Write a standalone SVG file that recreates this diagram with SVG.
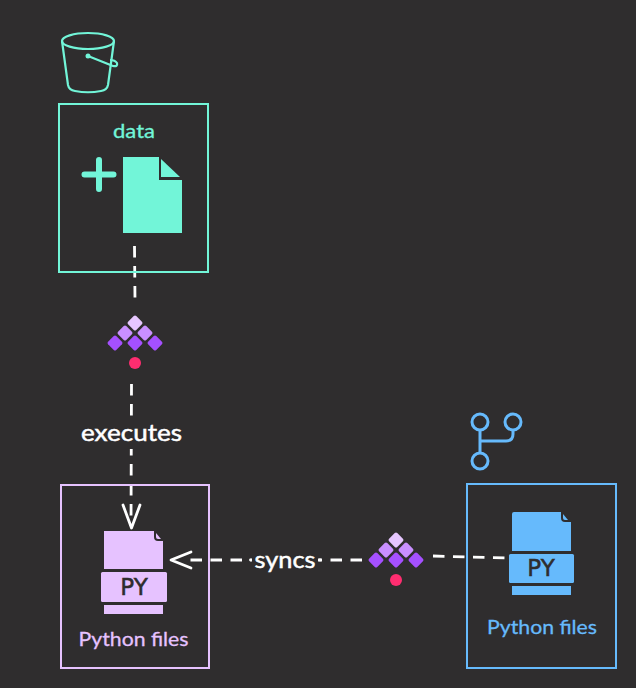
<svg xmlns="http://www.w3.org/2000/svg" width="636" height="688" viewBox="0 0 636 688">
<style>
text{font-family:"Comic Sans MS","Lato","Noto Sans",sans-serif;text-anchor:middle}
.box{fill:none;stroke-width:2}
.teal{stroke:#72F5D8;fill:none}
.blue{stroke:#66BAFC;fill:none}
.conn{fill:none;stroke:#fff;stroke-width:2.8}
.dash{stroke-dasharray:11.500 8.500}
.lbl{fill:#fff;font-size:24px;stroke:#fff;stroke-width:.5}
.name{font-size:20px;stroke-width:.3}
.bg{fill:#2F2D2E}
.py{font-family:"DejaVu Sans",sans-serif;font-size:23px;fill:#2F2D2E;stroke:#2F2D2E;stroke-width:.5}
.d1{fill:#E6C6FF}.d2{fill:#C98FFF}.d3{fill:#A550FF}
.pink{fill:#FF2D70}
</style>
<defs>
<g id="dia"><rect x="-5.800" y="-5.800" width="11.600" height="11.600" rx="1.800" transform="rotate(45)"/></g>
<g id="sf">
<use href="#dia" x="0" y="0" class="d1"/>
<use href="#dia" x="-10" y="10" class="d2"/>
<use href="#dia" x="10" y="10" class="d2"/>
<use href="#dia" x="-20" y="20" class="d3"/>
<use href="#dia" x="0" y="20" class="d3"/>
<use href="#dia" x="20" y="20" class="d3"/>
<circle cx="0" cy="40" r="6" class="pink"/>
</g>
</defs>
<rect width="636" height="688" fill="#2F2D2E"/>

<g id="connectors">
<path class="conn dash" d="M134.500 246L135 300"/>
<path class="conn dash" d="M131.500 384L131 526"/>
<path class="conn" d="M123 505L131.500 528L140 505" stroke-linejoin="round" stroke-linecap="round"/>
<path class="conn dash" d="M362 560L190 560"/>
<path class="conn" d="M191 552L171 560L191 568" stroke-linejoin="round" stroke-linecap="round"/>
<path class="conn dash" d="M433 556L506 558"/>
<rect class="bg" x="78" y="420" width="106" height="29"/>
<text class="lbl" x="131.500" y="441" textLength="101" lengthAdjust="spacingAndGlyphs">executes</text>
<rect class="bg" x="252" y="548" width="66" height="26"/>
<circle cx="250.500" cy="560" r="1.400" fill="#fff"/>
<circle cx="320" cy="560" r="1.400" fill="#fff"/>
<text class="lbl" x="285" y="568" textLength="61" lengthAdjust="spacingAndGlyphs">syncs</text>
</g>

<g id="bucket-icon" stroke-width="2.200" stroke-linejoin="round">
<ellipse class="teal" cx="88" cy="41" rx="26" ry="8"/>
<path class="teal" d="M62 41L68 85Q69 90 75 91Q88 93.500 101 91Q107 90 108 85L114 41"/>
<path class="teal" d="M88 56L113 66Q118 67 117 63Q115 60 110 60"/>
<circle cx="88" cy="56" r="2.500" fill="#72F5D8"/>
</g>

<g id="data">
<rect class="box teal" x="59" y="104" width="149" height="168"/>
<text class="name" x="134" y="138" fill="#72F5D8" stroke="#72F5D8" textLength="42" lengthAdjust="spacingAndGlyphs">data</text>
<path d="M99 160V189M84.500 174.500H113.500" stroke="#72F5D8" stroke-width="6" stroke-linecap="round" fill="none"/>
<path d="M123 157H159V180H182V233H123Z" fill="#72F5D8"/>
<path d="M161 159L180 177H161Z" fill="#72F5D8"/>
</g>

<g id="pipeline-top"><use href="#sf" x="135" y="323"/></g>
<g id="pipeline-right"><use href="#sf" x="396" y="540"/></g>

<g id="python-files-left" fill="#E6C2FF">
<rect class="box" stroke="#E6C2FF" x="61" y="485" width="148" height="183"/>
<path d="M104 531H154V537Q154 541 158 541H163V569H104Z"/>
<path d="M156 533L161 539H158Q156 539 156 537Z"/>
<rect x="101" y="572" width="66" height="30" rx="1.500"/>
<rect x="104" y="605" width="59" height="9"/>
<text class="py" x="134" y="595">PY</text>
<text class="name" x="133.500" y="646" stroke="#E6C2FF" textLength="110" lengthAdjust="spacingAndGlyphs">Python files</text>
</g>

<g id="git-icon" class="blue" stroke-width="3">
<circle class="blue" cx="480" cy="422" r="8"/>
<circle class="blue" cx="513" cy="422" r="8"/>
<circle class="blue" cx="480" cy="461" r="8"/>
<path class="blue" d="M480 430V453M513 430V434Q513 441 506 441H480"/>
</g>

<g id="python-files-right" fill="#66BAFC">
<rect class="box" stroke="#66BAFC" x="467" y="484" width="149" height="184"/>
<path d="M514 512H561V518Q561 522 565 522H571V551H512V514Q512 512 514 512Z"/>
<path d="M563 514L568 520H565Q563 520 563 518Z"/>
<rect x="509" y="554" width="65" height="29" rx="1.500"/>
<rect x="512" y="586" width="59" height="9"/>
<text class="py" x="541" y="576">PY</text>
<text class="name" x="542" y="634" stroke="#66BAFC" textLength="110" lengthAdjust="spacingAndGlyphs">Python files</text>
</g>
</svg>
